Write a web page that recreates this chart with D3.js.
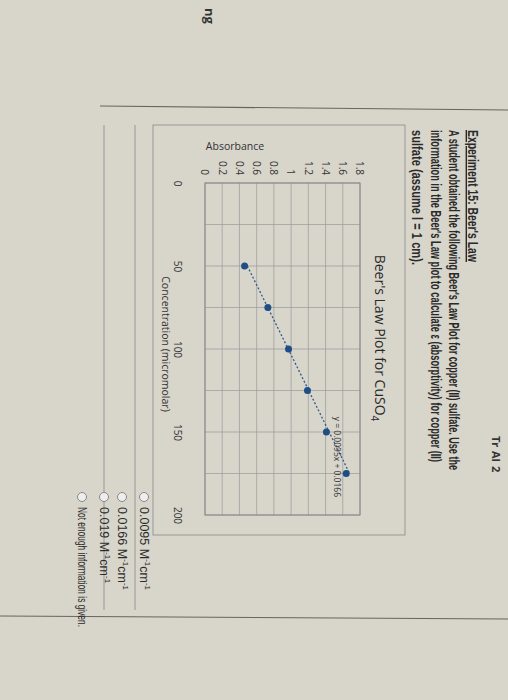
<!DOCTYPE html>
<html><head><meta charset="utf-8">
<script src="https://cdn.jsdelivr.net/npm/d3@7"></script>
<style>body{margin:0;background:#d8d5cb}svg{display:block}</style>
</head><body>
<script>
const concentrations = [50, 75, 100, 125, 150, 175];
const absorbances = [0.46, 0.73, 0.97, 1.19, 1.41, 1.64];
const xTicks = [0, 50, 100, 150, 200];
const yTicks = [0, 0.2, 0.4, 0.6, 0.8, 1, 1.2, 1.4, 1.6, 1.8];
const fit = {slope: 0.0095, intercept: 0.0166, label: "y = 0.0095x + 0.0166"};
const options = [["0.0095 M","-1","cm","-1"],["0.0166 M","-1","cm","-1"],["0.019 M","-1","cm","-1"],["Not enough information is given.","","",""]];

const narrow = "'Liberation Sans',sans-serif";
const font = "'Open Sans',sans-serif";
const svg = d3.select("body").append("svg").attr("width",508).attr("height",700);
svg.append("rect").attr("width",508).attr("height",700).attr("fill","#d8d5cb");
svg.append("line").attr("x1",100).attr("x2",508).attr("y1",106).attr("y2",110).attr("stroke","#6a6460").attr("stroke-width",1.2);
svg.append("line").attr("x1",0).attr("x2",508).attr("y1",616).attr("y2",619).attr("stroke","#6a6460").attr("stroke-width",1.2);
svg.append("text").attr("transform","translate(205,8) rotate(90)").attr("font-family",font).attr("font-weight","bold").attr("font-size",13).attr("fill","#333").text("ng");
[["Tr",436],["Al",451],["2",466]].forEach(([t,y])=>svg.append("text").attr("transform",`translate(492,${y}) rotate(90)`).attr("font-family",font).attr("font-weight","bold").attr("font-size",11).attr("fill","#333").text(t));

const g = svg.append("g").attr("transform","translate(482,0) rotate(90)");
g.append("line").attr("x1",125).attr("x2",610).attr("y1",347).attr("y2",347).attr("stroke","#888").attr("stroke-width",0.8);
g.append("line").attr("x1",125).attr("x2",610).attr("y1",378).attr("y2",378).attr("stroke","#888").attr("stroke-width",0.8);

g.append("text").attr("x",130).attr("y",14).attr("font-family",narrow).attr("font-weight","bold").attr("font-size",14).attr("fill","#2a2a2a").attr("text-decoration","underline").attr("textLength",132).attr("lengthAdjust","spacingAndGlyphs").text("Experiment 15: Beer's Law");
[["A student obtained the following Beer's Law Plot for copper (II) sulfate. Use the",340],
 ["information in the Beer's Law plot to calculate ε (absorptivity) for copper (II)",332],
 ["sulfate (assume l = 1 cm).",135]].forEach(([t,L],i)=>g.append("text").attr("x",130).attr("y",33+i*18.5).attr("font-family",narrow).attr("font-weight","bold").attr("font-size",14).attr("fill","#2a2a2a").attr("textLength",L).attr("lengthAdjust","spacingAndGlyphs").text(t));

g.append("rect").attr("x",125).attr("y",77).attr("width",410).attr("height",252).attr("fill","none").attr("stroke","#888").attr("stroke-width",0.8);
const x = d3.scaleLinear().domain([0,200]).range([183,515]);
const y = d3.scaleLinear().domain([0,1.8]).range([277,122]);
g.append("text").attr("x",338).attr("y",107).attr("text-anchor","middle").attr("font-family",font).attr("font-size",14).attr("fill","#2a2a2a").text("Beer's Law Plot for CuSO").append("tspan").attr("font-size",10).attr("dy",4).text("4");
const grid = g.append("g").attr("stroke","#999").attr("stroke-width",0.7);
d3.range(0,201,25).forEach(c=>grid.append("line").attr("x1",x(c)).attr("x2",x(c)).attr("y1",y(0)).attr("y2",y(1.8)));
yTicks.forEach(a=>grid.append("line").attr("x1",x(0)).attr("x2",x(200)).attr("y1",y(a)).attr("y2",y(a)));
g.append("rect").attr("x",x(0)).attr("y",y(1.8)).attr("width",x(200)-x(0)).attr("height",y(0)-y(1.8)).attr("fill","none").attr("stroke","#888");
const xa = g.append("g").attr("transform",`translate(0,${y(0)})`).call(d3.axisBottom(x).tickValues(xTicks).tickSize(0).tickPadding(24));
const ya = g.append("g").attr("transform",`translate(${x(0)},0)`).call(d3.axisLeft(y).tickValues(yTicks).tickSize(0).tickPadding(8).tickFormat(d3.format("")));
[xa,ya].forEach(a=>{a.select(".domain").remove();a.selectAll("text").attr("font-family",font).attr("font-size",10).attr("fill","#333");});
g.append("text").attr("transform","translate(150,247) rotate(-90)").attr("text-anchor","middle").attr("font-family",font).attr("font-size",10.5).attr("fill","#333").text("Absorbance");
g.append("text").attr("x",x(100)-5).attr("y",320).attr("text-anchor","middle").attr("font-family",font).attr("font-size",10.5).attr("fill","#333").text("Concentration (micromolar)");
g.append("line").attr("x1",x(concentrations[0])).attr("x2",x(concentrations[concentrations.length-1]))
 .attr("y1",y(fit.slope*concentrations[0]+fit.intercept)).attr("y2",y(fit.slope*concentrations[concentrations.length-1]+fit.intercept))
 .attr("stroke","#2e5b8f").attr("stroke-width",1.3).attr("stroke-dasharray","2,2");
g.selectAll("circle.p").data(concentrations).enter().append("circle").attr("cx",d=>x(d)).attr("cy",(d,i)=>y(absorbances[i])).attr("r",3.5).attr("fill","#1f4e85");
g.append("text").attr("x",x(165)).attr("y",y(1.5)).attr("text-anchor","middle").attr("font-family",font).attr("font-size",8.5).attr("fill","#333").text(fit.label);

options.forEach((o,i)=>{
  const v = 342 + [0,22,40,62][i];
  g.append("circle").attr("cx",497).attr("cy",v-4).attr("r",4.5).attr("fill","#eee").attr("stroke","#888");
  const t = g.append("text").attr("x",507).attr("y",v).attr("font-family",narrow).attr("font-size",12.5).attr("fill","#2a2a2a").text(o[0]);
  if(o[1]){t.append("tspan").attr("dy",-5).attr("font-size",8).text(o[1]);t.append("tspan").attr("dy",5).text(o[2]);t.append("tspan").attr("dy",-5).attr("font-size",8).text(o[3]);}
  else t.attr("textLength",120).attr("lengthAdjust","spacingAndGlyphs");
});
</script>
</body></html>
